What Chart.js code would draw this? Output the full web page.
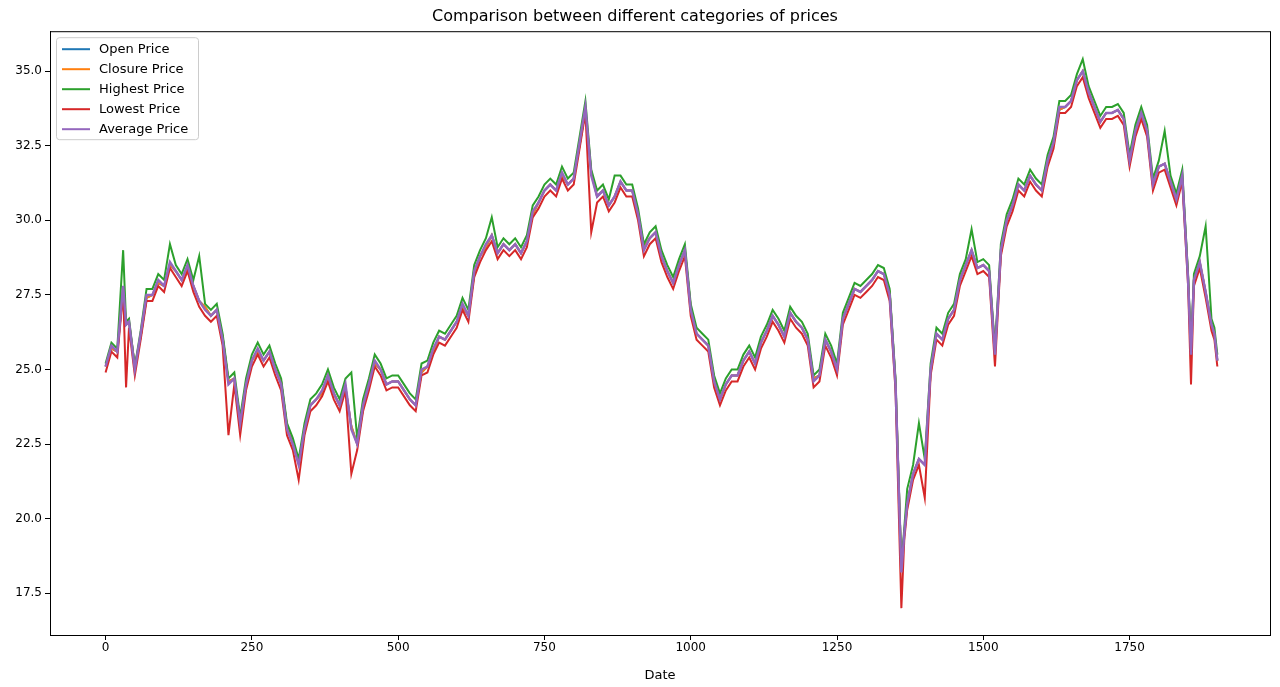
<!DOCTYPE html>
<html><head><meta charset="utf-8">
<script src="https://cdn.jsdelivr.net/npm/chart.js@4"></script>
<style>html,body{margin:0;padding:0;background:#fff}#wrap{width:1280px;height:687px}</style>
</head><body><div id="wrap"><canvas id="c" width="1280" height="687"></canvas></div>
<script>
const dates = [0,10,20,30,35,40,50,60,70,80,90,100,110,120,130,140,150,160,170,180,190,200,210,220,230,240,250,260,270,280,290,300,310,320,330,340,350,360,370,380,390,400,410,420,430,440,450,460,470,480,490,500,510,520,530,540,550,560,570,580,590,600,610,620,630,640,650,660,670,680,690,700,710,720,730,740,750,760,770,780,790,800,810,820,830,840,850,860,870,880,890,900,910,920,930,940,950,960,970,980,990,1000,1010,1020,1030,1040,1050,1060,1070,1080,1090,1100,1110,1120,1130,1140,1150,1160,1170,1180,1190,1200,1210,1220,1230,1240,1250,1260,1270,1280,1290,1300,1310,1320,1330,1340,1350,1360,1365,1370,1380,1390,1400,1410,1420,1430,1440,1450,1460,1470,1480,1490,1500,1510,1520,1530,1540,1550,1560,1570,1580,1590,1600,1610,1620,1630,1640,1650,1660,1670,1680,1690,1700,1710,1720,1730,1740,1750,1760,1770,1780,1790,1800,1810,1820,1830,1840,1850,1855,1860,1870,1880,1890,1895,1900];
const averagePrice = [25.1,25.8,25.6,27.8,26.5,26.6,25.0,26.2,27.5,27.5,28.0,27.8,28.6,28.3,28.0,28.5,27.8,27.3,27.0,26.8,27.0,26.0,24.5,24.7,23.2,24.5,25.3,25.7,25.3,25.6,25.0,24.5,23.0,22.5,21.8,23.0,23.8,24.0,24.3,24.8,24.2,23.8,24.5,23.0,22.5,23.8,24.5,25.3,25.0,24.5,24.6,24.6,24.3,24.0,23.8,25.0,25.1,25.7,26.1,26.0,26.3,26.6,27.2,26.8,28.3,28.8,29.2,29.5,28.9,29.2,29.0,29.2,28.9,29.3,30.3,30.6,31.0,31.2,31.0,31.6,31.2,31.4,32.6,33.8,31.5,30.8,31.0,30.5,30.8,31.3,31.0,31.0,30.2,29.0,29.4,29.6,28.8,28.3,27.9,28.5,29.0,27.0,26.2,26.0,25.8,24.6,24.0,24.5,24.8,24.8,25.3,25.6,25.2,25.9,26.3,26.8,26.5,26.1,26.9,26.6,26.4,26.0,24.6,24.8,26.0,25.6,25.0,26.7,27.2,27.7,27.6,27.8,28.0,28.3,28.2,27.5,24.5,18.2,19.5,20.5,21.5,22.0,21.8,25.0,26.2,26.0,26.7,27.0,28.0,28.5,29.0,28.4,28.5,28.3,25.5,29.0,30.0,30.5,31.2,31.0,31.5,31.2,31.0,32.0,32.6,33.8,33.8,34.0,34.7,35.0,34.3,33.8,33.3,33.6,33.6,33.7,33.4,32.0,33.0,33.6,33.0,31.2,31.8,31.9,31.3,30.7,31.5,28.0,25.5,28.0,28.6,27.6,26.5,26.2,25.3];
const openPrice = [25.1,25.7,25.6,27.7,26.5,26.6,25.1,26.1,27.4,27.5,27.9,27.8,28.5,28.3,28.0,28.4,27.8,27.3,27.1,26.8,27.0,26.1,24.6,24.7,23.3,24.4,25.3,25.6,25.3,25.6,25.0,24.6,23.1,22.5,21.9,22.9,23.8,24.0,24.2,24.8,24.2,23.8,24.4,23.1,22.5,23.7,24.5,25.2,25.0,24.5,24.6,24.6,24.3,24.0,23.8,24.9,25.1,25.6,26.1,26.0,26.3,26.6,27.1,26.8,28.2,28.8,29.1,29.5,28.9,29.2,29.0,29.2,28.9,29.3,30.2,30.6,31.0,31.2,31.0,31.5,31.2,31.4,32.5,33.7,31.6,30.8,31.0,30.5,30.8,31.3,31.0,31.0,30.2,29.1,29.4,29.6,28.8,28.3,27.9,28.5,29.0,27.1,26.2,26.0,25.8,24.7,24.0,24.5,24.8,24.8,25.3,25.6,25.2,25.9,26.3,26.8,26.5,26.1,26.9,26.6,26.4,26.0,24.7,24.8,26.0,25.6,25.0,26.7,27.2,27.7,27.6,27.8,28.0,28.3,28.2,27.6,24.6,18.4,19.5,20.5,21.5,22.0,21.8,24.9,26.2,26.0,26.7,27.0,28.0,28.5,29.0,28.4,28.5,28.3,25.6,28.9,30.0,30.5,31.2,31.0,31.5,31.2,31.0,32.0,32.6,33.7,33.8,34.0,34.7,35.0,34.3,33.8,33.3,33.6,33.6,33.7,33.4,32.0,33.0,33.6,33.0,31.2,31.8,31.9,31.3,30.7,31.5,28.1,25.6,28.0,28.6,27.6,26.5,26.2,25.3];
const closePrice = openPrice;
const highestPrice = [25.2,25.9,25.7,29.0,26.6,26.7,25.1,26.3,27.7,27.7,28.2,28.0,29.2,28.5,28.2,28.7,28.0,28.8,27.2,27.0,27.2,26.2,24.7,24.9,23.4,24.7,25.5,25.9,25.5,25.8,25.2,24.7,23.2,22.7,22.0,23.2,24.0,24.2,24.5,25.0,24.4,24.0,24.7,24.9,22.7,24.0,24.7,25.5,25.2,24.7,24.8,24.8,24.5,24.2,24.0,25.2,25.3,25.9,26.3,26.2,26.5,26.8,27.4,27.0,28.5,29.0,29.4,30.1,29.1,29.4,29.2,29.4,29.1,29.5,30.5,30.8,31.2,31.4,31.2,31.8,31.4,31.6,32.8,34.0,31.7,31.0,31.2,30.7,31.5,31.5,31.2,31.2,30.4,29.2,29.6,29.8,29.0,28.5,28.1,28.7,29.2,27.2,26.4,26.2,26.0,24.8,24.2,24.7,25.0,25.0,25.5,25.8,25.4,26.1,26.5,27.0,26.7,26.3,27.1,26.8,26.6,26.2,24.8,25.0,26.2,25.8,25.2,26.9,27.4,27.9,27.8,28.0,28.2,28.5,28.4,27.7,24.7,18.4,19.7,21.0,21.8,23.2,22.0,25.2,26.4,26.2,26.9,27.2,28.2,28.7,29.7,28.6,28.7,28.5,25.7,29.2,30.2,30.7,31.4,31.2,31.7,31.4,31.2,32.2,32.8,34.0,34.0,34.2,34.9,35.4,34.5,34.0,33.5,33.8,33.8,33.9,33.6,32.2,33.2,33.8,33.2,31.4,32.0,33.0,31.5,30.9,31.7,28.2,25.7,28.2,28.8,29.8,26.7,26.4,25.5];
const lowestPrice = [24.9,25.6,25.4,27.6,24.4,26.4,24.8,26.0,27.3,27.3,27.8,27.6,28.4,28.1,27.8,28.3,27.6,27.1,26.8,26.6,26.8,25.8,22.8,24.5,22.8,24.3,25.1,25.5,25.1,25.4,24.8,24.3,22.8,22.3,21.3,22.8,23.6,23.8,24.1,24.6,24.0,23.6,24.3,21.5,22.3,23.6,24.3,25.1,24.8,24.3,24.4,24.4,24.1,23.8,23.6,24.8,24.9,25.5,25.9,25.8,26.1,26.4,27.0,26.6,28.1,28.6,29.0,29.3,28.7,29.0,28.8,29.0,28.7,29.1,30.1,30.4,30.8,31.0,30.8,31.4,31.0,31.2,32.4,33.6,29.6,30.6,30.8,30.3,30.6,31.1,30.8,30.8,30.0,28.8,29.2,29.4,28.6,28.1,27.7,28.3,28.8,26.8,26.0,25.8,25.6,24.4,23.8,24.3,24.6,24.6,25.1,25.4,25.0,25.7,26.1,26.6,26.3,25.9,26.7,26.4,26.2,25.8,24.4,24.6,25.8,25.4,24.8,26.5,27.0,27.5,27.4,27.6,27.8,28.1,28.0,27.3,24.3,17.0,19.3,20.3,21.3,21.8,20.7,24.8,26.0,25.8,26.5,26.8,27.8,28.3,28.8,28.2,28.3,28.1,25.1,28.8,29.8,30.3,31.0,30.8,31.3,31.0,30.8,31.8,32.4,33.6,33.6,33.8,34.5,34.8,34.1,33.6,33.1,33.4,33.4,33.5,33.2,31.8,32.8,33.4,32.8,31.0,31.6,31.7,31.1,30.5,31.3,27.8,24.5,27.8,28.4,27.4,26.3,26.0,25.1];
const seriesNames = ['Open Price','Closure Price','Highest Price','Lowest Price','Average Price'];
const seriesColors = ['#1f77b4','#ff7f0e','#2ca02c','#d62728','#9467bd'];
const seriesValues = [openPrice, closePrice, highestPrice, lowestPrice, averagePrice];
const xTicks = [0,250,500,750,1000,1250,1500,1750];
const yTicks = [17.5,20.0,22.5,25.0,27.5,30.0,32.5,35.0];

const FONT = 'DejaVu Sans';
const legendPlugin = {
  id: 'mplLegend',
  afterDraw(chart) {
    const ctx = chart.ctx, a = chart.chartArea;
    const x0 = a.left + 6, y0 = a.top + 6, w = 142, h = 102;
    ctx.save();
    ctx.fillStyle = 'rgba(255,255,255,0.8)';
    ctx.strokeStyle = '#cccccc'; ctx.lineWidth = 1;
    ctx.beginPath(); ctx.roundRect(x0 + 0.5, y0 + 0.5, w, h, 3); ctx.fill(); ctx.stroke();
    ctx.font = '13px ' + FONT; ctx.textBaseline = 'middle'; ctx.fillStyle = '#000';
    seriesNames.forEach((n, i) => {
      const yy = y0 + 12 + i * 20;
      ctx.strokeStyle = seriesColors[i]; ctx.lineWidth = 2;
      ctx.beginPath(); ctx.moveTo(x0 + 6, yy); ctx.lineTo(x0 + 34, yy); ctx.stroke();
      ctx.fillText(n, x0 + 43, yy);
    });
    ctx.restore();
  }
};
const frame = {
  id: 'frame',
  afterDatasetsDraw(chart) {
    const ctx = chart.ctx, a = chart.chartArea;
    ctx.save(); ctx.strokeStyle = '#000'; ctx.lineWidth = 1;
    ctx.strokeRect(a.left + 0.5, a.top + 0.5, a.right - a.left, a.bottom - a.top);
    ctx.restore();
  }
};
new Chart(document.getElementById('c'), {
  type: 'line',
  data: {
    datasets: seriesNames.map((n, i) => ({
      label: n,
      data: dates.map((d, k) => ({x: d, y: seriesValues[i][k]})),
      borderColor: seriesColors[i], backgroundColor: seriesColors[i],
      borderWidth: i === 4 ? 2.5 : 2, pointRadius: 0, tension: 0, order: 5 - i
    }))
  },
  options: {
    responsive: false, animation: false,
    layout: {padding: {left: 0, right: 10, top: 0, bottom: 0}},
    plugins: {
      legend: {display: false}, tooltip: {enabled: false},
      title: {display: true, text: 'Comparison between different categories of prices',
        color: '#000', font: {family: FONT, size: 16, weight: 'normal'}, padding: {top: 7, bottom: 5}}
    },
    scales: {
      x: {type: 'linear', min: -95, max: 1990,
        afterBuildTicks: s => { s.ticks = xTicks.map(v => ({value: v})); },
        afterFit: s => { s.height = 52; },
        ticks: {color: '#000', font: {family: FONT, size: 12}, maxRotation: 0, padding: 1, callback: v => String(v)},
        grid: {drawOnChartArea: false, color: '#000', tickLength: 5},
        border: {color: '#000'},
        title: {display: true, text: 'Date', color: '#000', font: {family: FONT, size: 13}, padding: {top: 0, bottom: 4}}
      },
      y: {min: 16.1, max: 36.34,
        afterBuildTicks: s => { s.ticks = yTicks.map(v => ({value: v})); },
        afterFit: s => { s.width = 50; },
        ticks: {color: '#000', font: {family: FONT, size: 12}, padding: 3, callback: v => v.toFixed(1)},
        grid: {drawOnChartArea: false, color: '#000', tickLength: 5},
        border: {color: '#000'}
      }
    }
  },
  plugins: [legendPlugin, frame]
});
</script></body></html>
